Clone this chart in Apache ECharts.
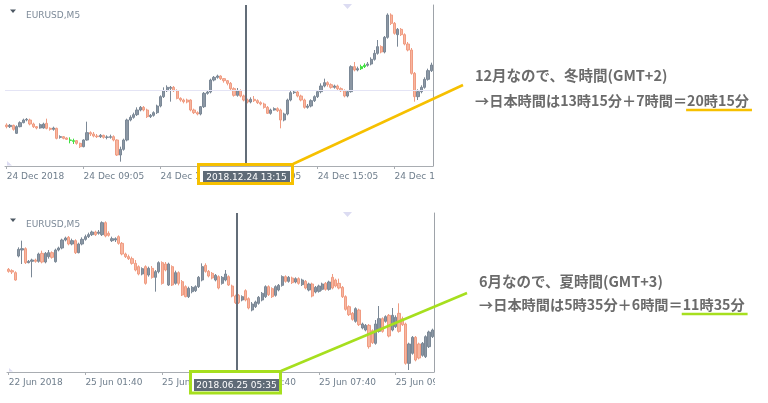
<!DOCTYPE html>
<html>
<head>
<meta charset="utf-8">
<script src="https://cdn.jsdelivr.net/npm/echarts@6/dist/echarts.min.js"></script>
<style>
  html, body { margin: 0; padding: 0; background: #fff; }
  #chart { width: 768px; height: 403px; }
</style>
</head>
<body>
<div id="chart"></div>
<script>
// candles: [open, close, low, high], in points below the top of each panel
// (the y axes are inverted, so a bigger number sits lower on the chart)
const decBars = [
  [375,380,370,385],[380,376,372,384],[376,388,374,392],[400,380,376,402],[380,368,364,382],
  [368,360,356,370],[360,358,354,364],[360,372,356,376],[372,380,368,384],[380,384,378,388],
  [384,374,370,386],[384,372,368,386],[370,385,356,388],[385,388,382,392],[388,384,380,392],
  [385,415,383,418],[412,410,406,416],[410,415,408,418],[414,418,412,420],[420,421,412,430],
  [424,422,416,432],[422,430,420,434],[430,440,428,444],[440,420,418,442],[420,398,365,422],
  [398,402,394,408],[402,408,396,412],[408,410,402,414],[410,406,402,414],[406,412,404,416],
  [412,411,406,418],[412,410,404,416],[410,420,406,424],[420,465,418,468],[465,448,440,485],
  [448,420,416,452],[420,360,356,424],[360,352,346,364],[352,344,338,356],[344,330,322,348],
  [330,322,318,334],[322,330,318,334],[330,350,326,354],[350,346,342,354],[346,338,334,350],
  [338,318,314,342],[318,290,286,322],[290,272,262,294],[272,262,256,276],[265,262,258,305],
  [262,272,258,276],[272,295,268,298],[295,300,292,305],[300,305,296,310],[300,306,296,310],
  [300,330,298,334],[330,338,326,342],[338,342,334,346],[342,320,318,346],[320,280,276,324],
  [280,276,270,284],[276,240,236,280],[240,232,228,244],[232,228,224,236],[228,236,226,240],
  [236,242,234,248],[242,250,240,256],[250,266,246,270],[266,286,262,290],[286,272,264,290],
  [272,288,268,292],[288,300,284,304],[300,306,296,310],[306,298,292,310],[298,302,288,306],
  [302,308,298,312],[308,312,304,316],[312,322,308,326],[322,340,318,342],[340,330,326,344],
  [330,326,322,332],[326,332,322,336],[330,360,326,385],[360,342,338,364],[342,300,296,346],
  [300,278,272,304],[278,276,272,282],[276,288,272,292],[288,300,284,304],[300,322,296,326],
  [322,318,312,326],[318,302,298,322],[302,290,286,306],[290,275,270,294],[275,258,250,280],
  [258,248,236,262],[248,254,244,260],[254,262,250,266],[262,258,254,266],[258,266,254,272],
  [266,272,262,276],[272,288,268,292],[288,275,270,292],[275,200,196,278],[200,210,186,214],
  [210,206,200,214],[206,200,194,210],[200,196,190,204],[196,192,186,200],[192,178,172,196],
  [178,160,150,182],[160,140,120,164],[140,156,136,160],[156,112,108,160],[112,45,40,116],
  [45,70,40,75],[70,100,66,104],[104,88,84,140],[88,104,84,108],[104,132,100,136],
  [132,150,126,154],[150,220,144,224],[220,290,216,305],[290,275,268,300],[275,262,256,280],
  [262,238,232,266],[238,212,206,242],[212,195,188,216]
];
const decGreen = [19, 20, 106, 107];
const decTickIdx = [0, 23, 46, 70, 93, 116];
const decTickText = ['24 Dec 2018', '24 Dec 09:05', '24 Dec 11:05', '24 Dec 13:05', '24 Dec 15:05', '24 Dec 17:05'];
const decLevel = 270;

const junBars = [
  [208,214,204,218],[212,216,208,222],[218,240,214,242],[168,148,142,172],[150,146,122,192],
  [146,188,142,192],[188,184,180,190],[184,180,176,232],[180,184,176,188],[184,162,158,188],
  [160,186,152,190],[186,160,156,190],[170,158,150,176],[158,172,154,176],[185,150,146,188],
  [150,144,140,154],[144,120,116,148],[120,114,110,124],[112,132,108,136],[132,122,116,136],
  [122,158,118,162],[158,132,128,160],[132,118,112,136],[118,110,104,122],[110,104,98,114],
  [104,96,92,108],[96,104,92,108],[100,96,90,104],[104,68,64,108],[68,108,64,112],
  [100,106,94,110],[122,116,110,126],[120,116,112,126],[110,130,106,134],[130,162,126,166],
  [162,170,158,174],[170,176,164,180],[176,190,170,194],[190,210,180,214],[200,222,196,226],
  [222,206,202,226],[200,250,196,254],[225,205,200,230],[205,232,198,236],[232,215,210,275],
  [215,188,184,220],[188,250,184,254],[192,210,186,214],[255,192,188,258],[200,255,196,258],
  [250,218,212,254],[218,250,214,256],[245,285,240,288],[260,290,256,292],[290,265,260,294],
  [275,262,258,280],[272,260,256,276],[260,232,228,264],[240,200,190,244],[196,214,190,218],
  [214,228,210,232],[220,234,216,238],[240,226,222,244],[230,264,226,268],[250,232,228,254],
  [240,222,210,244],[230,255,226,258],[258,288,254,292],[288,308,284,312],[286,308,282,312],
  [300,290,286,304],[272,300,268,304],[296,324,292,328],[330,312,306,334],[320,306,302,324],
  [310,292,288,314],[300,280,276,304],[290,260,256,294],[260,284,256,288],[266,290,262,294],
  [286,260,256,290],[270,256,252,274],[256,230,226,260],[230,244,226,248],[244,232,228,248],
  [234,248,230,252],[246,236,232,250],[236,250,232,254],[254,240,236,258],[244,264,240,268],
  [270,252,248,274],[252,288,248,292],[276,262,258,280],[274,258,254,278],[268,252,248,272],
  [250,268,246,272],[268,246,242,272],[232,264,222,268],[240,258,236,262],[250,264,236,268],
  [262,290,258,294],[290,328,286,332],[320,344,316,348],[340,358,336,362],[364,326,322,368],
  [330,374,326,378],[384,372,368,388],[390,376,372,394],[376,440,372,446],[392,428,388,432],
  [430,372,360,434],[394,356,318,398],[356,394,352,398],[364,350,346,368],[346,408,342,412],
  [390,346,324,394],[380,352,346,384],[340,394,310,398],[356,374,350,378],[372,490,368,494],
  [490,432,428,510],[460,412,408,464],[412,480,408,484],[432,474,428,478],[466,430,426,470],
  [470,410,406,474],[440,396,392,444],[410,390,386,414]
];
const junTickIdx = [0, 23, 46, 69, 93, 116];
const junTickText = ['22 Jun 2018', '25 Jun 01:40', '25 Jun 03:40', '25 Jun 05:40', '25 Jun 07:40', '25 Jun 09:40'];

const decCursor = '2018.12.24 13:15';
const junCursor = '2018.06.25 05:35';
const decNote = ['12月なので、冬時間(GMT+2)', '→日本時間は13時15分＋7時間＝', '20時15分'];
const junNote = ['6月なので、夏時間(GMT+3)', '→日本時間は5時35分＋6時間＝', '11時35分'];

const bearCol = '#f7b6a0', bearEdge = '#f09c82';
const bullCol = '#8b97a4', bullEdge = '#7b8896';
const greenCol = '#3fe03f';
const axisCol = '#a9adb2';
const labelCol = '#6f7e8c';
const noteCol = '#6b6b6b';
const yellow = '#f6c000';
const lime = '#a6df1e';
const noteFont = 'bold 14.5px "Noto Sans CJK JP"';
const noteFont2 = 'bold 14.2px "Noto Sans CJK JP"';

const measure = (function () {
  const ctx = document.createElement('canvas').getContext('2d');
  return function (txt, font) { ctx.font = font; return ctx.measureText(txt).width; };
})();

function xAxisFor(gridIndex, n, ticks, texts) {
  const isTick = (i) => ticks.indexOf(i) >= 0;
  return {
    type: 'category', gridIndex: gridIndex,
    data: Array.from({ length: n }, (_, i) => String(i)),
    boundaryGap: true,
    axisLine: { lineStyle: { color: axisCol, width: 1 } },
    axisTick: { show: true, interval: isTick, alignWithLabel: true, length: 3, lineStyle: { color: axisCol } },
    axisLabel: {
      interval: isTick, align: 'left', margin: 6,
      color: labelCol, fontFamily: 'DejaVu Sans', fontSize: 9,
      formatter: (v) => texts[ticks.indexOf(+v)] || ''
    },
    splitLine: { show: false }
  };
}

function yAxisFor(gridIndex, min, max) {
  return {
    type: 'value', gridIndex: gridIndex, inverse: true, min: min, max: max, position: 'right',
    axisLine: { show: true, lineStyle: { color: '#9ea3a9', width: 1 } },
    axisTick: { show: false }, axisLabel: { show: false }, splitLine: { show: false }
  };
}

const candleStyle = {
  // close > open here means the price went down (inverted axis)
  color: bearCol, borderColor: bearEdge,
  color0: bullCol, borderColor0: bullEdge, borderWidth: 1
};

function cursorBox(boxX, boxY, boxW, boxH, lblX, lblY, lblW, lblH, axisY, txt, col) {
  return [
    { type: 'rect', z: 100, shape: { x: boxX, y: axisY + 1, width: boxW, height: boxY + boxH - axisY - 1 }, style: { fill: '#fff' } },
    { type: 'rect', z: 101, shape: { x: lblX, y: lblY, width: lblW, height: lblH }, style: { fill: '#5f6b77' } },
    { type: 'text', z: 102, x: lblX + lblW / 2, y: lblY + lblH / 2 + 0.5,
      style: { text: txt, font: '9px "DejaVu Sans"', fill: '#fff', align: 'center', verticalAlign: 'middle' } },
    { type: 'rect', z: 103, shape: { x: boxX, y: boxY, width: boxW, height: boxH }, style: { fill: 'none', stroke: col, lineWidth: 3 } }
  ];
}

function noteGraphics(x, y1, y2, lines, col) {
  const preW = measure(lines[1], noteFont2);
  const postW = measure(lines[2], noteFont2);
  return [
    { type: 'text', z: 100, x: x, y: y1, style: { text: lines[0], font: noteFont, fill: noteCol, verticalAlign: 'middle' } },
    { type: 'text', z: 100, x: x, y: y2, style: { text: lines[1] + lines[2], font: noteFont2, fill: noteCol, verticalAlign: 'middle' } },
    { type: 'line', z: 100, shape: { x1: x + preW - 1, y1: y2 + 9, x2: x + preW + postW + 3, y2: y2 + 9 }, style: { stroke: col, lineWidth: 2.5 } }
  ];
}

const chart = echarts.init(document.getElementById('chart'));

chart.setOption({
  animation: false,
  title: [
    { text: 'EURUSD,M5', left: 21, top: 6, textStyle: { fontFamily: 'DejaVu Sans', fontSize: 9, fontWeight: 'normal', color: '#7d8a98' } },
    { text: 'EURUSD,M5', left: 21, top: 215, textStyle: { fontFamily: 'DejaVu Sans', fontSize: 9, fontWeight: 'normal', color: '#7d8a98' } }
  ],
  grid: [
    { left: 5, top: 5, width: 428, height: 161 },
    { left: 7, top: 213, width: 427, height: 159 }
  ],
  xAxis: [
    xAxisFor(0, decBars.length, decTickIdx, decTickText),
    xAxisFor(1, junBars.length, junTickIdx, junTickText)
  ],
  yAxis: [yAxisFor(0, 15, 498), yAxisFor(1, 39, 516)],
  series: [
    {
      name: 'EURUSD Dec', type: 'candlestick', xAxisIndex: 0, yAxisIndex: 0, barWidth: 2.7,
      itemStyle: candleStyle,
      data: decBars.map((b, i) => decGreen.indexOf(i) >= 0
        ? { value: b, itemStyle: { color: greenCol, color0: greenCol, borderColor: greenCol, borderColor0: greenCol } }
        : b),
      markLine: {
        silent: true, symbol: 'none', label: { show: false },
        lineStyle: { color: '#e4e4f5', width: 1, type: 'solid' },
        data: [{ yAxis: decLevel }]
      }
    },
    {
      name: 'EURUSD Jun', type: 'candlestick', xAxisIndex: 1, yAxisIndex: 1, barWidth: 2.7,
      itemStyle: candleStyle,
      data: junBars
    }
  ],
  graphic: [].concat(
    // small chart markers
    [
      { type: 'polygon', z: 90, shape: { points: [[343, 4], [352, 4], [347.5, 9]] }, style: { fill: '#dcdcf2' } },
      { type: 'polygon', z: 90, shape: { points: [[343, 212], [352, 212], [347.5, 217]] }, style: { fill: '#dcdcf2' } },
      { type: 'polygon', z: 90, shape: { points: [[7, 161], [7, 165.5], [12, 165.5]] }, style: { fill: '#dcdcf2' } },
      { type: 'polygon', z: 90, shape: { points: [[9, 368], [9, 371.5], [13, 371.5]] }, style: { fill: '#dcdcf2' } },
      { type: 'polygon', z: 90, shape: { points: [[10, 9.5], [16, 9.5], [13, 13]] }, style: { fill: '#4d5863' } },
      { type: 'polygon', z: 90, shape: { points: [[10, 218.5], [16, 218.5], [13, 222]] }, style: { fill: '#4d5863' } },
      // hide axis labels running past the chart window
      { type: 'rect', z: 90, shape: { x: 435, y: 167, width: 40, height: 20 }, style: { fill: '#fff' } },
      { type: 'rect', z: 90, shape: { x: 435, y: 373, width: 40, height: 22 }, style: { fill: '#fff' } },
      // crosshairs
      { type: 'line', z: 95, shape: { x1: 246, y1: 5, x2: 246, y2: 164 }, style: { stroke: '#636d78', lineWidth: 2 } },
      { type: 'line', z: 95, shape: { x1: 237, y1: 213, x2: 237, y2: 371 }, style: { stroke: '#636d78', lineWidth: 2 } },
      // connectors to the notes
      { type: 'line', z: 104, shape: { x1: 293, y1: 164, x2: 463, y2: 85 }, style: { stroke: yellow, lineWidth: 2.5 } },
      { type: 'line', z: 104, shape: { x1: 281, y1: 371, x2: 467, y2: 293 }, style: { stroke: lime, lineWidth: 2.5 } }
    ],
    cursorBox(198.5, 164.5, 94, 19, 203, 171, 87, 11.5, 166, decCursor, yellow),
    cursorBox(190.5, 371.5, 90, 21.5, 194, 379, 85, 12, 372, junCursor, lime),
    noteGraphics(475, 75, 101, decNote, yellow),
    noteGraphics(479, 281, 305, junNote, lime)
  )
});
</script>
</body>
</html>
